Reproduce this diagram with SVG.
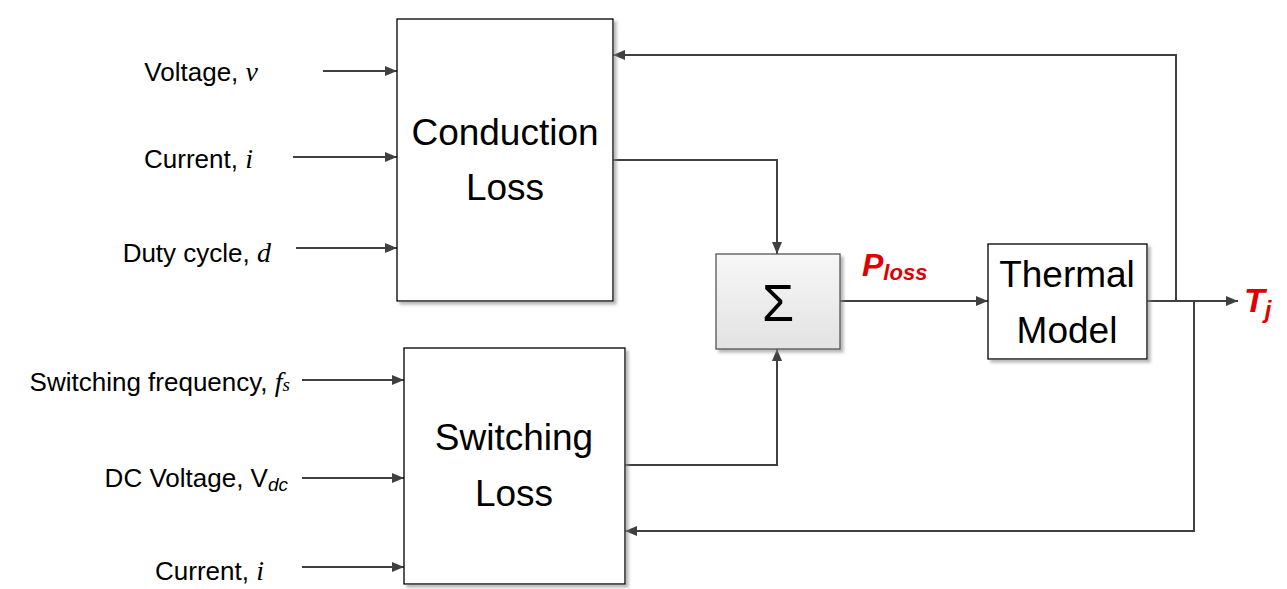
<svg xmlns="http://www.w3.org/2000/svg" width="1287" height="589" viewBox="0 0 1287 589">
<style>
.b{fill:#fff;stroke:#000;stroke-width:1.3}
.l{fill:none;stroke:#404040;stroke-width:2}
.t{font-family:"Liberation Sans",Arial,sans-serif;fill:#000}
.m{font-family:"Liberation Serif",serif;font-style:italic}
.r{font-family:"Liberation Sans",Arial,sans-serif;font-weight:bold;font-style:italic;fill:#e00000}
</style>
<defs>
<marker id="a" viewBox="0 0 12 10" refX="12" refY="5" markerWidth="12" markerHeight="10" markerUnits="userSpaceOnUse" orient="auto"><path d="M0,0L12,5L0,10z" fill="#404040"/></marker>
<linearGradient id="g" x1="0" y1="0" x2="0" y2="1"><stop offset="0" stop-color="#f7f7f7"/><stop offset="1" stop-color="#e2e2e2"/></linearGradient>
<filter id="s"><feDropShadow dx="3" dy="3" stdDeviation="1.5" flood-color="#888" flood-opacity="0.6"/></filter>
</defs>
<g id="connectors" class="l">
<path d="M323,71H397" marker-end="url(#a)"/>
<path d="M293,157H397" marker-end="url(#a)"/>
<path d="M296,248H397" marker-end="url(#a)"/>
<path d="M302,380H404" marker-end="url(#a)"/>
<path d="M302,478H404" marker-end="url(#a)"/>
<path d="M302,567H404" marker-end="url(#a)"/>
<path d="M613,160H777V254" marker-end="url(#a)"/>
<path d="M625,465H777V349" marker-end="url(#a)"/>
<path d="M840,301H988" marker-end="url(#a)"/>
<path d="M1147,301H1238" marker-end="url(#a)"/>
<path d="M1176,301V55H613" marker-end="url(#a)"/>
<path d="M1194,301V531H625" marker-end="url(#a)"/>
</g>
<g id="conduction"><rect class="b" x="397" y="19" width="216" height="282" filter="url(#s)"/>
<text class="t" font-size="37" text-anchor="middle" x="505" y="145">Conduction</text><text class="t" font-size="37" text-anchor="middle" x="505" y="200">Loss</text></g>
<g id="switching"><rect class="b" x="404" y="348" width="221" height="236" filter="url(#s)"/>
<text class="t" font-size="37" text-anchor="middle" x="514" y="450">Switching</text><text class="t" font-size="37" text-anchor="middle" x="514" y="506">Loss</text></g>
<g id="sum"><rect x="716" y="254" width="124" height="95" fill="url(#g)" stroke="#555" stroke-width="1.3" filter="url(#s)"/>
<text class="t" font-size="52" text-anchor="middle" x="778" y="321">Σ</text></g>
<g id="thermal"><rect class="b" x="988" y="244" width="159" height="115" filter="url(#s)"/>
<text class="t" font-size="37" text-anchor="middle" x="1067" y="287">Thermal</text><text class="t" font-size="37" text-anchor="middle" x="1067" y="343">Model</text></g>
<g id="labels" class="t" font-size="26" text-anchor="end">
<text x="258" y="81">Voltage, <tspan class="m" font-size="28">v</tspan></text>
<text x="253" y="168">Current, <tspan class="m" font-size="28">i</tspan></text>
<text x="271" y="262">Duty cycle, <tspan class="m" font-size="28">d</tspan></text>
<text x="290" y="391">Switching frequency, <tspan class="m" font-size="28">f</tspan><tspan class="m" font-size="19">s</tspan></text>
<text x="288" y="487">DC Voltage, V<tspan font-size="19" font-style="italic" dy="4">dc</tspan></text>
<text x="264" y="580">Current, <tspan class="m" font-size="28">i</tspan></text>
</g>
<text class="r" font-size="32" x="862" y="276">P<tspan font-size="22" dy="4">loss</tspan></text>
<text class="r" font-size="34" x="1244" y="312">T<tspan font-size="24" dy="6">j</tspan></text>
</svg>
